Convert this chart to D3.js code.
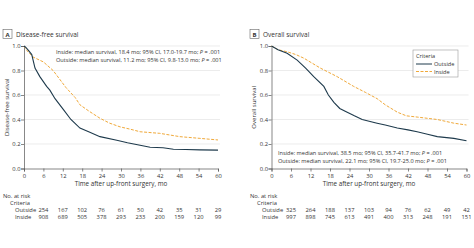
<!DOCTYPE html>
<html>
<head>
<meta charset="utf-8">
<script src="https://cdn.jsdelivr.net/npm/d3@7"></script>
<style>
  body { margin: 0; background: #fff; }
  svg text { font-family: "Open Sans", sans-serif; fill: #333; }
</style>
</head>
<body>
<div id="chart"></div>
<script>
var width = 474,
    height = 248;

// ticks and risk table columns
var months = [0, 6, 12, 18, 24, 30, 36, 42, 48, 54, 60];
var riskMonths = [6, 12, 18, 24, 30, 36, 42, 48, 54, 60];
var survTicks = [0, 0.2, 0.4, 0.6, 0.8, 1.0];

// Panel A: disease-free survival (month, survival)
var dfsOutside = [[0,1],[0.5,0.99],[1.5,0.96],[2.4,0.93],[3.4,0.82],[4.9,0.75],[7,0.67],[8,0.64],[9.6,0.57],
    [12.2,0.48],[14.5,0.40],[17.3,0.33],[20,0.30],[23.5,0.26],[28.7,0.23],[32,0.21],[35.9,0.19],
    [39,0.173],[43,0.17],[46.2,0.157],[50,0.155],[54.4,0.152],[60,0.15]];
var dfsInside = [[0,1],[1,0.96],[2.8,0.91],[6,0.87],[9,0.80],[11,0.73],[13,0.66],[15.8,0.58],[17.3,0.52],
    [20,0.47],[23.5,0.41],[26.5,0.37],[29.7,0.34],[33,0.32],[35.9,0.30],[42,0.287],[48.2,0.26],
    [54.4,0.246],[60,0.233]];
var dfsRiskOutside = [254, 167, 102, 76, 61, 50, 42, 35, 31, 29];
var dfsRiskInside = [908, 689, 505, 378, 293, 233, 200, 159, 120, 99];

// Panel B: overall survival
var osOutside = [[0,1],[2,0.97],[4.8,0.94],[7.9,0.885],[10.5,0.82],[13,0.75],[16.1,0.67],[17.5,0.60],
    [19.2,0.54],[21,0.49],[23.3,0.46],[25.5,0.43],[27.9,0.40],[32.5,0.37],[35,0.355],[38.7,0.33],
    [42,0.315],[44.8,0.30],[48,0.28],[51,0.26],[56.1,0.246],[60,0.227]];
var osInside = [[0,1],[2,0.97],[4.8,0.953],[7.5,0.93],[10,0.90],[12.5,0.86],[15,0.82],[20.2,0.75],
    [25.3,0.67],[29,0.62],[32.5,0.57],[35,0.52],[38.7,0.46],[41.5,0.43],[44.8,0.42],[51,0.40],
    [56.1,0.37],[60,0.355]];
var osRiskOutside = [325, 264, 188, 137, 103, 94, 76, 62, 49, 42];
var osRiskInside = [997, 898, 745, 613, 491, 400, 313, 248, 191, 151];

var darkColor = "#1e3a4c",
    orangeColor = "#f0a93a";

var svg = d3.select("#chart").append("svg")
    .attr("width", width)
    .attr("height", height);

var panels = [
    {letter: "A", title: "Disease-free survival", ylabel: "Disease-free survival",
     x0: 24, x1: 218, outside: dfsOutside, inside: dfsInside,
     riskOut: dfsRiskOutside, riskIn: dfsRiskInside, labelX: 3,
     notes: ["Inside: median survival, 18.4 mo; 95% CI, 17.0-19.7 mo; ", "Outside: median survival, 11.2 mo; 95% CI, 9.8-13.0 mo; "],
     noteX: 56, noteY: 54, legend: false},
    {letter: "B", title: "Overall survival", ylabel: "Overall survival",
     x0: 271.5, x1: 466.5, outside: osOutside, inside: osInside,
     riskOut: osRiskOutside, riskIn: osRiskInside, labelX: 250,
     notes: ["Inside: median survival, 38.5 mo; 95% CI, 35.7-41.7 mo; ", "Outside: median survival, 22.1 mo; 95% CI, 19.7-25.0 mo; "],
     noteX: 278, noteY: 155, legend: true}
];

panels.forEach(function(p) {
    var x = d3.scaleLinear().domain([0, 60]).range([p.x0, p.x1]);
    var y = d3.scaleLinear().domain([0, 1]).range([168.5, 46]);
    var g = svg.append("g");

    // title with boxed letter
    g.append("rect")
        .attr("x", p.labelX).attr("y", 29.5)
        .attr("width", 9).attr("height", 9)
        .attr("fill", "#fff").attr("stroke", "#666").attr("stroke-width", 0.6);
    g.append("text")
        .attr("x", p.labelX + 4.5).attr("y", 36.5)
        .attr("text-anchor", "middle")
        .style("font-size", "6px").style("font-weight", "bold")
        .text(p.letter);
    g.append("text")
        .attr("x", p.labelX + 13).attr("y", 36.5)
        .style("font-size", "6.5px")
        .text(p.title);

    // grid lines
    g.selectAll(".grid")
        .data(survTicks.slice(1))
        .enter().append("line")
        .attr("x1", x(0)).attr("x2", x(60) + 2)
        .attr("y1", function(d) { return y(d); })
        .attr("y2", function(d) { return y(d); })
        .style("stroke", "#e4e4e4")
        .style("stroke-width", 0.7);

    // axes
    var yAxis = g.append("g")
        .attr("transform", "translate(" + x(0) + ",0)")
        .call(d3.axisLeft(y).tickValues(survTicks).tickFormat(d3.format(".1f")).tickSize(3));
    var xAxis = g.append("g")
        .attr("transform", "translate(0," + y(0) + ")")
        .call(d3.axisBottom(x).tickValues(months).tickSize(3));
    [xAxis, yAxis].forEach(function(a) {
        a.selectAll("path").style("stroke", "#555").style("stroke-width", 0.7);
        a.selectAll("line").style("stroke", "#555").style("stroke-width", 0.7);
        a.selectAll("text").style("font-size", "5.8px").style("font-family", "Open Sans").attr("fill", "#333");
    });
    xAxis.selectAll("text").attr("dy", "0.55em");
    yAxis.selectAll("text").attr("x", -3.5);

    // axis labels
    g.append("text")
        .attr("transform", "translate(" + (p.labelX + 6) + "," + y(0.5) + ") rotate(-90)")
        .attr("text-anchor", "middle")
        .style("font-size", "6px")
        .text(p.ylabel);
    g.append("text")
        .attr("x", (x(0) + x(60)) / 2).attr("y", 186)
        .attr("text-anchor", "middle")
        .style("font-size", "6.3px")
        .text("Time after up-front surgery, mo");

    // curves
    var line = d3.line()
        .x(function(d) { return x(d[0]); })
        .y(function(d) { return y(d[1]); });
    g.append("path")
        .datum(p.inside)
        .attr("d", line)
        .attr("fill", "none")
        .style("stroke", orangeColor)
        .style("stroke-width", 1)
        .style("stroke-dasharray", "3,1.5");
    g.append("path")
        .datum(p.outside)
        .attr("d", line)
        .attr("fill", "none")
        .style("stroke", darkColor)
        .style("stroke-width", 1.1);

    // median notes
    p.notes.forEach(function(n, i) {
        var t = g.append("text")
            .attr("x", p.noteX).attr("y", p.noteY + i * 8)
            .style("font-size", "5.6px");
        t.append("tspan").text(n);
        t.append("tspan").style("font-style", "italic").text("P");
        t.append("tspan").text(" = .001");
    });

    // legend
    if (p.legend) {
        var lg = g.append("g").attr("transform", "translate(413,50)");
        lg.append("rect")
            .attr("width", 45).attr("height", 27)
            .attr("fill", "#fff").attr("stroke", "#999").attr("stroke-width", 0.6);
        lg.append("text").attr("x", 3).attr("y", 7.5).style("font-size", "5.6px").text("Criteria");
        var items = [{name: "Outside", color: darkColor, dash: null},
                     {name: "Inside", color: orangeColor, dash: "3,1.5"}];
        items.forEach(function(it, i) {
            lg.append("line")
                .attr("x1", 3).attr("x2", 19)
                .attr("y1", 14 + i * 7.5).attr("y2", 14 + i * 7.5)
                .style("stroke", it.color).style("stroke-width", 1)
                .style("stroke-dasharray", it.dash);
            lg.append("text").attr("x", 21).attr("y", 16 + i * 7.5)
                .style("font-size", "5.6px").text(it.name);
        });
    }

    // number at risk
    var rx = p.labelX;
    g.append("text").attr("x", rx).attr("y", 198).style("font-size", "5.8px").text("No. at risk");
    g.append("text").attr("x", rx + 7).attr("y", 205).style("font-size", "5.8px").text("Criteria");
    g.append("text").attr("x", rx + 12).attr("y", 212).style("font-size", "5.8px").text("Outside");
    g.append("text").attr("x", rx + 12).attr("y", 219).style("font-size", "5.8px").text("Inside");
    [p.riskOut, p.riskIn].forEach(function(row, r) {
        g.selectAll(".risk" + r)
            .data(row)
            .enter().append("text")
            .attr("x", function(d, i) { return x(riskMonths[i]); })
            .attr("y", 212 + r * 7)
            .attr("text-anchor", "middle")
            .style("font-size", "5.8px")
            .text(function(d) { return d; });
    });
});
</script>
</body>
</html>
